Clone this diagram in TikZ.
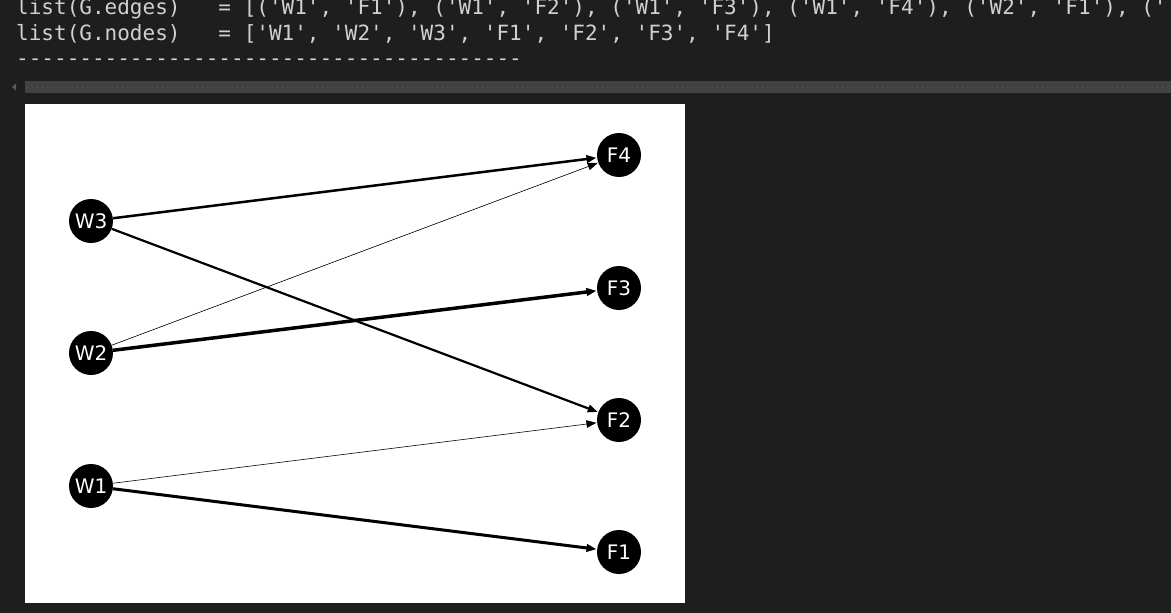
\documentclass[tikz,border=0pt]{standalone}
\usepackage{fontspec}
\setmonofont{DejaVu Sans Mono}
\newfontfamily\nodefont{DejaVu Sans}
\usetikzlibrary{arrows.meta}
\definecolor{bgdark}{HTML}{1E1E1E}
\definecolor{codegray}{HTML}{D0D0D0}
\definecolor{scrolltrack}{HTML}{424242}
\definecolor{scrolldot}{HTML}{595959}
\definecolor{scrollarrow}{HTML}{5A5A5A}
\tikzset{
  codeline/.style={anchor=base west, inner sep=0pt, text=codegray, font=\ttfamily\fontsize{21}{21}\selectfont},
  gnode/.style={circle, fill=black, minimum size=44pt, inner sep=0pt, text=white, font=\nodefont\fontsize{20}{20}\selectfont},
  gedge/.style={draw=black, -{Triangle[length=10pt,width=7.5pt]}, shorten >=0.5pt},
}
\begin{document}
\begin{tikzpicture}[x=1pt,y=-1pt]
\useasboundingbox (0,0) rectangle (1171,613);
\clip (0,0) rectangle (1171,613);
\fill[bgdark] (0,0) rectangle (1171,613);
% code text
\node[codeline] (l1) at (16,15) {list(G.edges)\ \ \ = [('W1', 'F1'), ('W1', 'F2'), ('W1', 'F3'), ('W1', 'F4'), ('W2', 'F1'), ('};
\node[codeline] (l2) at (16,40) {list(G.nodes)\ \ \ = ['W1', 'W2', 'W3', 'F1', 'F2', 'F3', 'F4']};
\node[codeline] (l3) at (16,65) {----------------------------------------};
% scrollbar
\fill[scrolltrack] (25,81) rectangle (1171,93);
\draw[scrolldot, line width=1pt, dash pattern=on 1pt off 4pt] (27,87) -- (1171,87);
\fill[scrollarrow] (12,87) -- (16,83.5) -- (16,90.5) -- cycle;
% plot area
\fill[white] (25,104) rectangle (685,603);
% nodes
\node[gnode] (W3) at (91,221) {W3};
\node[gnode] (W2) at (91,353) {W2};
\node[gnode] (W1) at (91,486) {W1};
\node[gnode] (F4) at (619,155) {F4};
\node[gnode] (F3) at (619,288) {F3};
\node[gnode] (F2) at (619,420) {F2};
\node[gnode] (F1) at (619,552) {F1};
% edges
\draw[gedge, line width=2.5pt] (W3) -- (F4);
\draw[gedge, line width=2.2pt] (W3) -- (F2);
\draw[gedge, line width=0.6pt] (W2) -- (F4);
\draw[gedge, line width=3.5pt] (W2) -- (F3);
\draw[gedge, line width=0.6pt] (W1) -- (F2);
\draw[gedge, line width=3pt] (W1) -- (F1);
\end{tikzpicture}
\end{document}
